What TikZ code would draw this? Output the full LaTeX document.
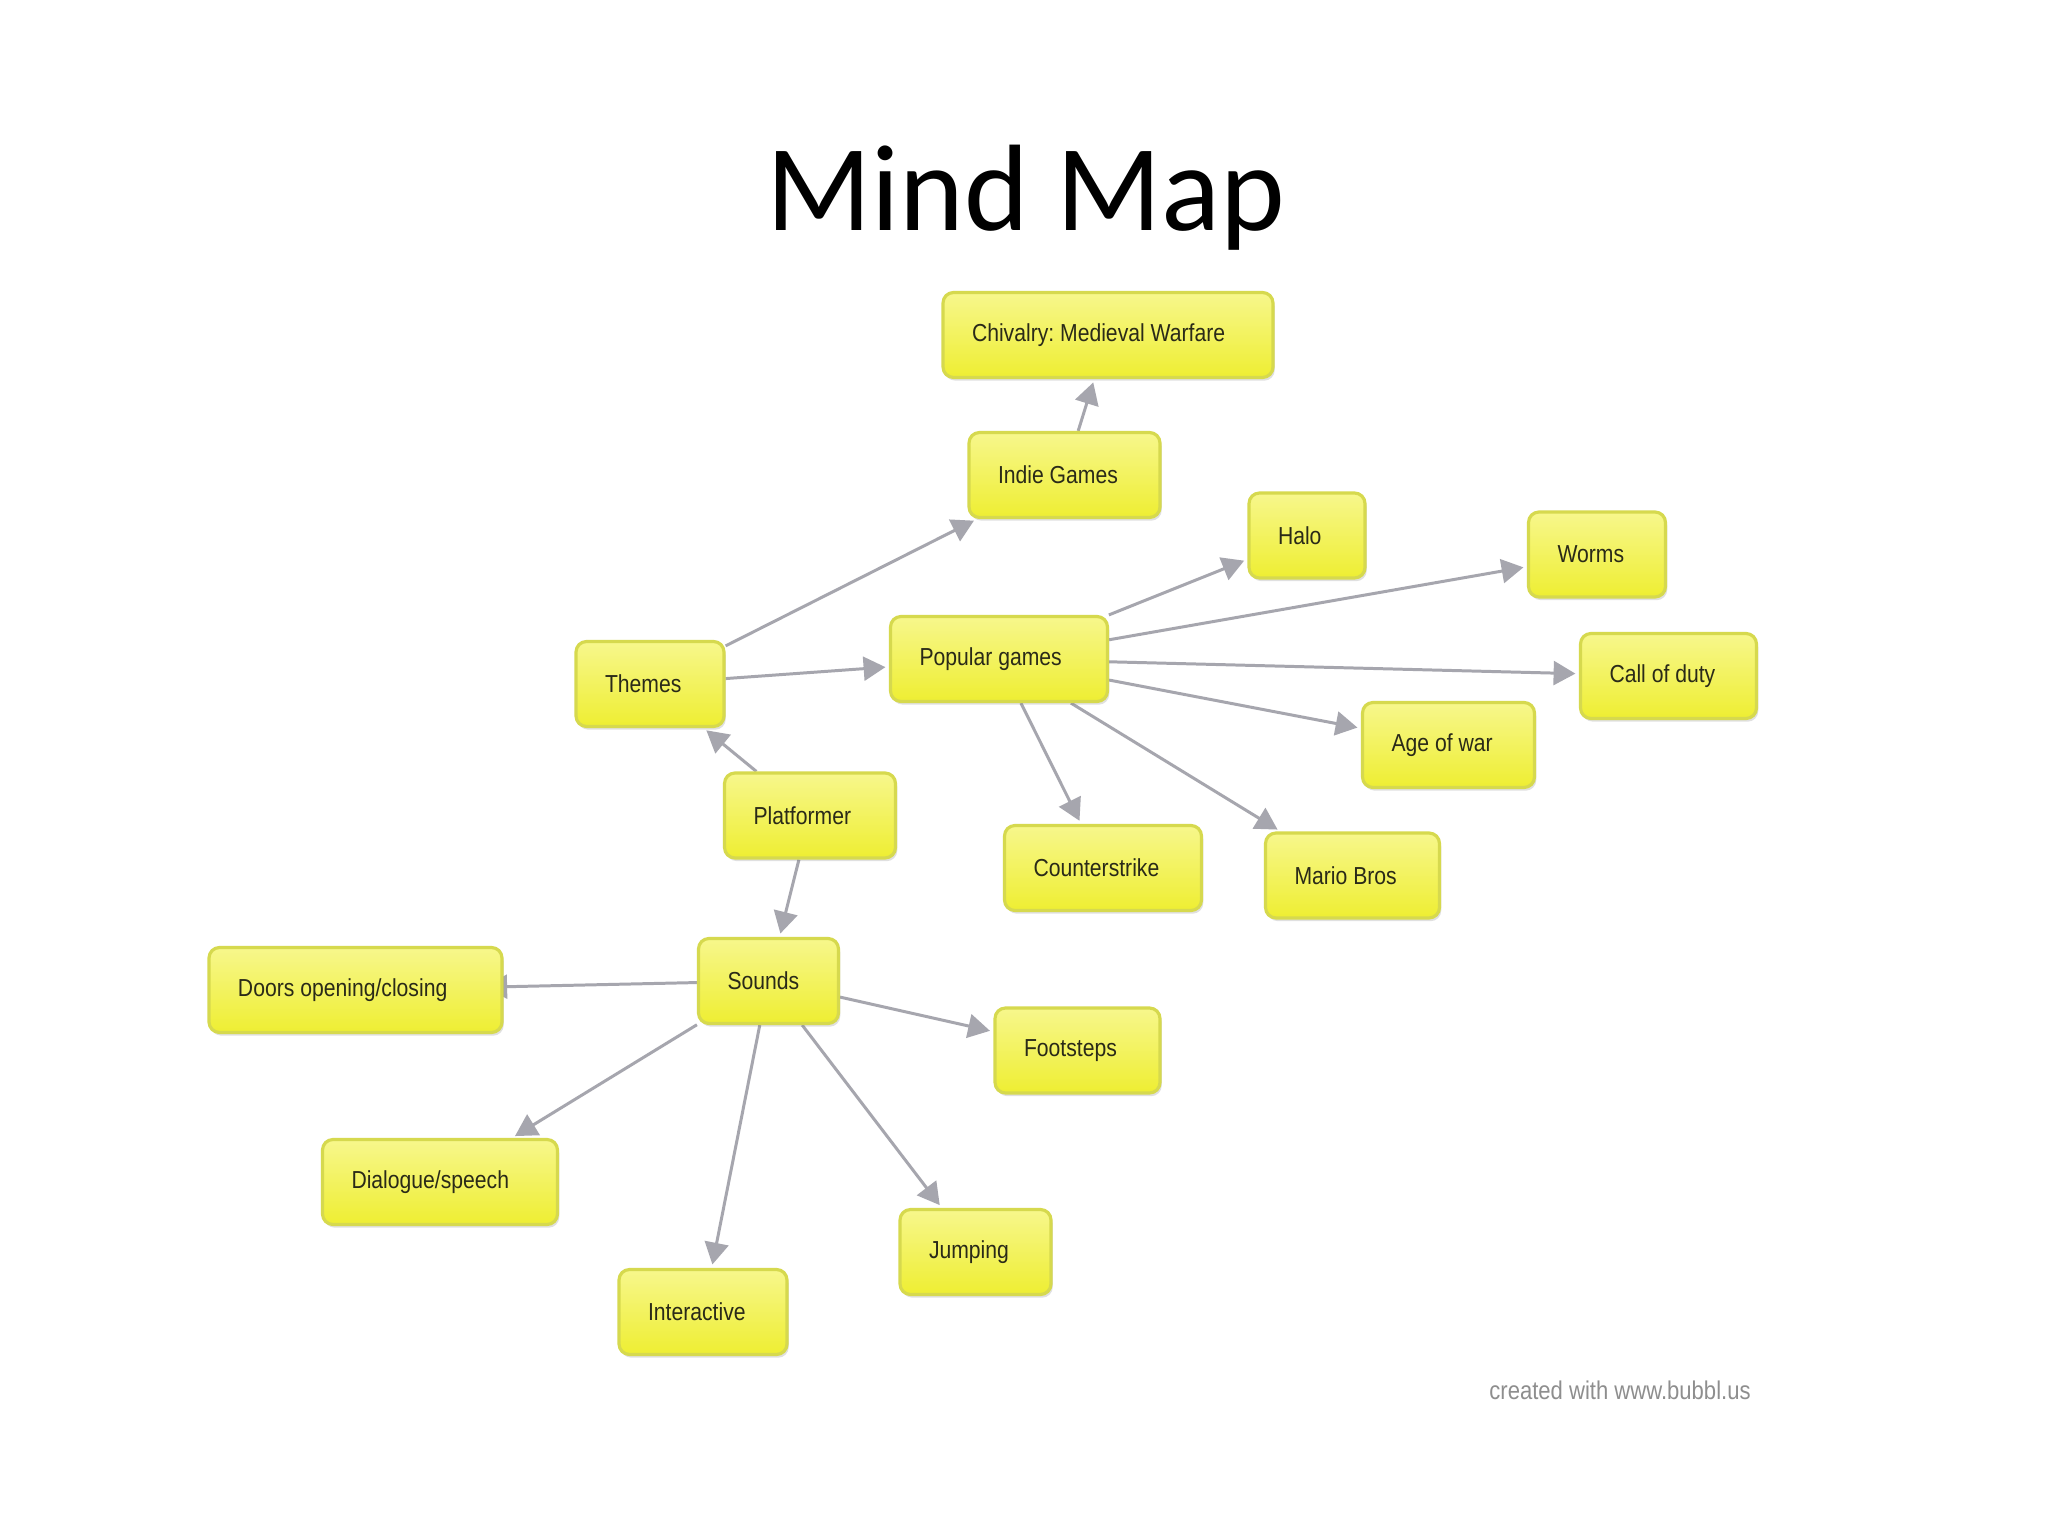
\documentclass[tikz,border=0pt]{standalone}
\usepackage{fontspec}
\setmainfont{Liberation Sans}
\newfontfamily\titlefont{Carlito}
\newfontfamily\bubfont[FakeStretch=0.86]{Liberation Sans}
\usetikzlibrary{positioning,arrows.meta,shadows,backgrounds}
\definecolor{bubtop}{HTML}{F7F78C}
\definecolor{bubfill}{HTML}{EEEE32}
\definecolor{bubedge}{HTML}{D6D94E}
\definecolor{bubink}{HTML}{2A2A18}
\definecolor{linkgray}{HTML}{A6A6AE}
\definecolor{footgray}{HTML}{8E8E8E}
\tikzset{
  bubbase/.style={draw=bubedge, line width=0.9pt, rounded corners=3pt,
    top color=bubtop, bottom color=bubfill, text=bubink,
    minimum height=0.85cm, inner xsep=0pt, align=flush left,
    font=\bubfont\fontsize{7pt}{8pt}\selectfont\frenchspacing,
    drop shadow={shadow xshift=0.5pt, shadow yshift=-0.9pt, opacity=0.2, fill=black!60}},
  bub/.code={\pgfmathsetlengthmacro\bubtw{#1-0.58cm}%
    \tikzset{bubbase, minimum width=#1, text width=\bubtw}},
  link/.style={-{Triangle[length=6.2pt,width=6.8pt]}, line width=0.85pt,
    color=linkgray, shorten >=1pt},
  foot/.style={font=\bubfont\fontsize{7.3pt}{8pt}\selectfont, text=footgray},
}

\begin{document}
\begin{tikzpicture}
  \useasboundingbox (0,0) rectangle (20.48,-15.36);
  \node[anchor=base, font=\titlefont\fontsize{35pt}{42pt}\selectfont] (title) at (10.26,-2.31) {Mind Map};
  % hubs
  \node[bub=1.48cm] (themes) at (6.50,-6.84) {Themes};
  \node[bub=2.17cm] (popular) at (9.99,-6.59) {Popular games};
  \node[bub=1.91cm] (indie) at (10.645,-4.75) {Indie Games};
  \node[bub=1.71cm] (platformer) at (8.10,-8.155) {Platformer};
  \node[bub=1.40cm] (sounds) at (7.685,-9.81) {Sounds};
  % leaves
  \node[bub=3.30cm] (chiv) at (11.08,-3.35) {Chivalry: Medieval Warfare};
  \node[bub=1.16cm] (halo) at (13.07,-5.355) {Halo};
  \node[bub=1.37cm] (worms) at (15.97,-5.545) {Worms};
  \node[bub=1.76cm] (callduty) at (16.685,-6.76) {Call of duty};
  \node[bub=1.72cm] (agewar) at (14.485,-7.45) {Age of war};
  \node[bub=1.97cm] (counter) at (11.03,-8.68) {Counterstrike};
  \node[bub=1.74cm] (mario) at (13.525,-8.755) {Mario Bros};
  \node[bub=2.93cm] (doors) at (3.555,-9.90) {Doors opening/closing};
  \node[bub=1.65cm] (footsteps) at (10.775,-10.505) {Footsteps};
  \node[bub=2.35cm] (dialogue) at (4.40,-11.82) {Dialogue/speech};
  \node[bub=1.51cm] (jumping) at (9.755,-12.52) {Jumping};
  \node[bub=1.68cm] (interactive) at (7.03,-13.12) {Interactive};
  \node[foot] (credit) at (16.20,-13.90) {created with www.bubbl.us};
  \begin{scope}[on background layer]
    \fill[white] (0,0) rectangle (20.48,-15.36);
    \draw[link] (themes) -- (indie);
    \draw[link] (indie) -- (chiv);
    \draw[link] (themes) -- (popular);
    \draw[link] (popular) -- (halo);
    \draw[link] (popular) -- (worms);
    \draw[link] (popular) -- (callduty);
    \draw[link] (popular) -- (agewar);
    \draw[link] (popular) -- (counter);
    \draw[link] (popular) -- (mario);
    \draw[link] (platformer) -- (themes);
    \draw[link] (platformer) -- (sounds);
    \draw[link, shorten >=-5.2pt] (sounds) -- (doors);
    \draw[link] (sounds) -- (footsteps);
    \draw[link] (sounds) -- (dialogue);
    \draw[link] (sounds) -- (interactive);
    \draw[link] (sounds) -- (jumping);
  \end{scope}
\end{tikzpicture}
\end{document}
